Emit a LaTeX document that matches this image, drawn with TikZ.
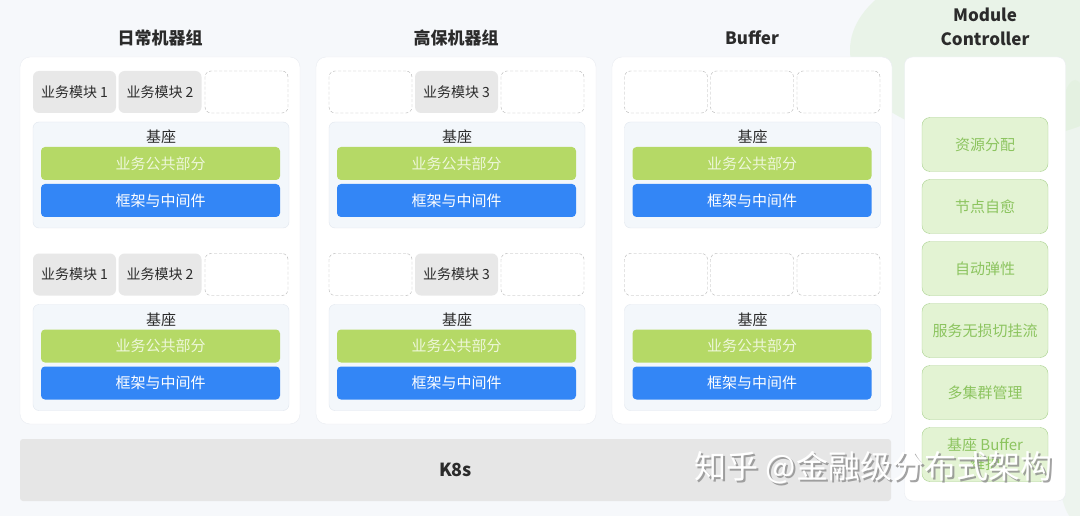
\documentclass[tikz,border=0pt]{standalone}
\usepackage{fontspec}
\setmainfont{Noto Sans CJK SC}
\definecolor{pagebg}{HTML}{F6F8FB}
\definecolor{panelline}{HTML}{EAEDF2}
\definecolor{modgrey}{HTML}{E8E8E8}
\definecolor{slotline}{HTML}{B4B4B4}
\definecolor{basefill}{HTML}{F3F7FB}
\definecolor{baseline}{HTML}{E1E7EF}
\definecolor{commongreen}{HTML}{B5D966}
\definecolor{commontext}{HTML}{EEF7DA}
\definecolor{frameblue}{HTML}{3386F6}
\definecolor{textdark}{HTML}{2B2B2B}
\definecolor{ctrlfill}{HTML}{E3F3D3}
\definecolor{ctrlline}{HTML}{A9D18E}
\definecolor{ctrltext}{HTML}{8CC45F}
\definecolor{k8sgrey}{HTML}{E6E6E6}
\definecolor{washgreen}{HTML}{DDEFD6}

\begin{document}
\begin{tikzpicture}[x=1pt,y=-1pt,
    groupbox/.style={draw=panelline, fill=white, rounded corners=10pt, minimum width=280pt, minimum height=367pt, inner sep=0pt},
    modbox/.style={fill=modgrey, rounded corners=6pt, minimum width=83pt, minimum height=42pt, inner sep=0pt, text=textdark, font=\fontsize{14}{16}\selectfont},
    slotbox/.style={draw=slotline, densely dashed, fill=white, rounded corners=6pt, minimum width=83pt, minimum height=42pt, inner sep=0pt},
    basebox/.style={draw=baseline, fill=basefill, rounded corners=6pt, minimum width=256pt, minimum height=106pt, inner sep=0pt},
    baselabel/.style={text=textdark, font=\fontsize{15}{17}\selectfont, inner sep=0pt},
    commonbar/.style={fill=commongreen, text=commontext, rounded corners=4pt, minimum width=239pt, minimum height=33pt, inner sep=0pt, font=\fontsize{15}{17}\selectfont},
    fwbar/.style={fill=frameblue, text=white, rounded corners=4pt, minimum width=239pt, minimum height=33pt, inner sep=0pt, font=\fontsize{15}{17}\selectfont},
    titletext/.style={text=textdark, font=\fontsize{17}{24}\selectfont\bfseries, align=center, inner sep=0pt},
    ctrlbox/.style={draw=ctrlline, fill=ctrlfill, text=ctrltext, rounded corners=8pt, minimum width=126pt, minimum height=54pt, inner sep=0pt, align=center, font=\fontsize{15}{19}\selectfont},
    wmark/.style={text=white, font=\fontsize{32}{36}\selectfont, inner sep=0pt}
  ]

    \useasboundingbox[fill=pagebg] (0,0) rectangle (1080,516);
    \fill[washgreen, opacity=0.5] (1000,50) ellipse (150pt and 90pt);
    \fill[washgreen, opacity=0.35] (1075,300) ellipse (30pt and 220pt);

    \node[titletext] (t1) at (160,38) {日常机器组};
    \node[titletext] (t2) at (456,38) {高保机器组};
    \node[titletext] (t3) at (752,38) {Buffer};
    \node[titletext] (t4) at (985,27) {Module\\Controller};

    \node[groupbox] (g1) at (160,240.5) {};
    \node[groupbox] (g2) at (456,240.5) {};
    \node[groupbox] (g3) at (752,240.5) {};
    \node[draw=panelline, fill=white, rounded corners=8pt, minimum width=161pt, minimum height=444pt] (mc) at (985,279) {};

    % 日常机器组
    \node[modbox] (m1a1) at (74.5,92) {业务模块 1};
    \node[modbox] (m1a2) at (160,92) {业务模块 2};
    \node[slotbox] (m1a3) at (246.5,92) {};
    \node[basebox] (b1a) at (161,175) {};
    \node[baselabel] (l1a) at (161,137) {基座};
    \node[commonbar] (c1a) at (160.5,163.5) {业务公共部分};
    \node[fwbar] (f1a) at (160.5,200.5) {框架与中间件};

    \node[modbox] (m1b1) at (74.5,274.5) {业务模块 1};
    \node[modbox] (m1b2) at (160,274.5) {业务模块 2};
    \node[slotbox] (m1b3) at (246.5,274.5) {};
    \node[basebox] (b1b) at (161,357.5) {};
    \node[baselabel] (l1b) at (161,319.5) {基座};
    \node[commonbar] (c1b) at (160.5,346) {业务公共部分};
    \node[fwbar] (f1b) at (160.5,383) {框架与中间件};

    % 高保机器组
    \node[slotbox] (m2a1) at (370.5,92) {};
    \node[modbox] (m2a2) at (456.5,92) {业务模块 3};
    \node[slotbox] (m2a3) at (542.5,92) {};
    \node[basebox] (b2a) at (457,175) {};
    \node[baselabel] (l2a) at (457,137) {基座};
    \node[commonbar] (c2a) at (456.5,163.5) {业务公共部分};
    \node[fwbar] (f2a) at (456.5,200.5) {框架与中间件};

    \node[slotbox] (m2b1) at (370.5,274.5) {};
    \node[modbox] (m2b2) at (456.5,274.5) {业务模块 3};
    \node[slotbox] (m2b3) at (542.5,274.5) {};
    \node[basebox] (b2b) at (457,357.5) {};
    \node[baselabel] (l2b) at (457,319.5) {基座};
    \node[commonbar] (c2b) at (456.5,346) {业务公共部分};
    \node[fwbar] (f2b) at (456.5,383) {框架与中间件};

    % Buffer
    \node[slotbox] (m3a1) at (666,92) {};
    \node[slotbox] (m3a2) at (752,92) {};
    \node[slotbox] (m3a3) at (838.5,92) {};
    \node[basebox] (b3a) at (752.5,175) {};
    \node[baselabel] (l3a) at (752.5,137) {基座};
    \node[commonbar] (c3a) at (752,163.5) {业务公共部分};
    \node[fwbar] (f3a) at (752,200.5) {框架与中间件};

    \node[slotbox] (m3b1) at (666,274.5) {};
    \node[slotbox] (m3b2) at (752,274.5) {};
    \node[slotbox] (m3b3) at (838.5,274.5) {};
    \node[basebox] (b3b) at (752.5,357.5) {};
    \node[baselabel] (l3b) at (752.5,319.5) {基座};
    \node[commonbar] (c3b) at (752,346) {业务公共部分};
    \node[fwbar] (f3b) at (752,383) {框架与中间件};

    \node[fill=k8sgrey, rounded corners=3pt, minimum width=871pt, minimum height=62pt, inner sep=0pt, text=textdark, font=\fontsize{18}{20}\selectfont\bfseries] (k8s) at (455.5,470) {K8s};

    % Module Controller
    \node[ctrlbox] (r1) at (985,144.5) {资源分配};
    \node[ctrlbox] (r2) at (985,206.5) {节点自愈};
    \node[ctrlbox] (r3) at (985,268.5) {自动弹性};
    \node[ctrlbox] (r4) at (985,330.5) {服务无损切挂流};
    \node[ctrlbox] (r5) at (985,392.5) {多集群管理};
    \node[ctrlbox] (r6) at (985,454.5) {基座 Buffer\\维护};

    \node[wmark, text=black!45, opacity=0.8] (wms) at (875.5,469.5) {知乎 @金融级分布式架构};
    \node[wmark] (wm) at (873.5,467.5) {知乎 @金融级分布式架构};

\end{tikzpicture}
\end{document}
